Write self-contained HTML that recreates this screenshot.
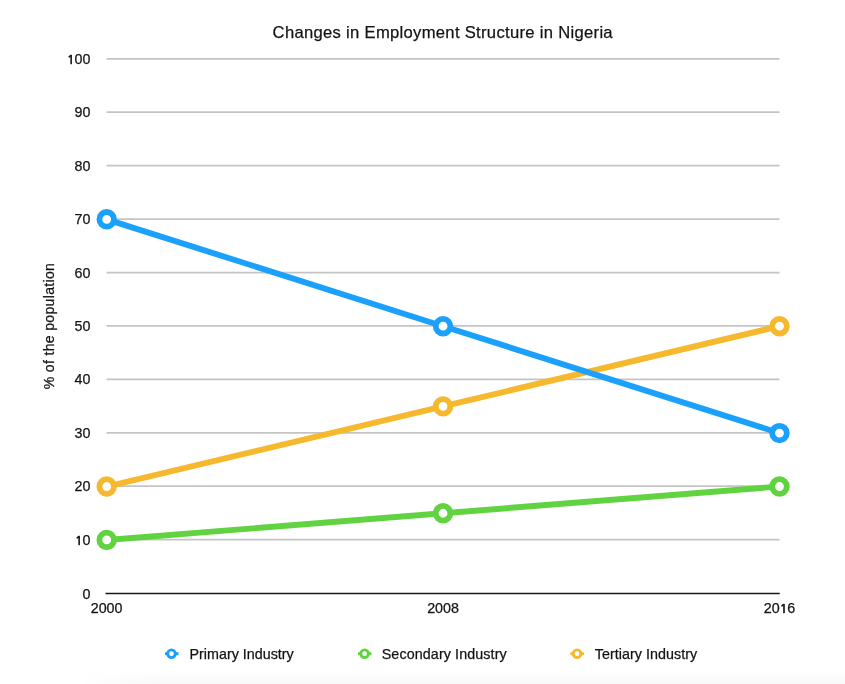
<!DOCTYPE html>
<html lang="en">
<head>
<meta charset="utf-8">
<title>Changes in Employment Structure in Nigeria</title>
<style>
  html, body { margin: 0; padding: 0; background: #ffffff; }
  body { width: 845px; height: 684px; overflow: hidden; position: relative; }
  svg { display: block; position: absolute; left: 0; top: 0; will-change: transform; }
  text { font-family: "Liberation Sans", sans-serif; fill: #141414; stroke: #141414; stroke-width: 0.25; }
  .tick { font-size: 14.3px; }
  .one { font-family: "NanumGothic", "Liberation Sans", sans-serif; font-size: 12.6px; stroke-width: 0.7; }
  .ylab { font-size: 14px; }
  .title { font-size: 16.6px; }
  .legend { font-size: 14.3px; }
  .grid { stroke: #c4c4c4; stroke-width: 1.75; }
  .axis { stroke: #181818; stroke-width: 1.65; }
  .shade { position: absolute; left: 80px; right: 0; bottom: 0; height: 13px;
           background: linear-gradient(to right, #ffffff 0, rgba(255,255,255,0) 70px),
                       linear-gradient(to bottom, #ffffff 0%, #f8f8f8 100%); }
</style>
</head>
<body>
<div class="shade"></div>
<svg width="845" height="684" viewBox="0 0 845 684">
  <!-- title -->
  <text class="title" x="272.6" y="38.1" textLength="340" lengthAdjust="spacing">Changes in Employment Structure in Nigeria</text>

  <!-- gridlines -->
  <g class="grid">
    <line x1="106.5" x2="779.5" y1="58.80" y2="58.80"/>
    <line x1="106.5" x2="779.5" y1="112.23" y2="112.23"/>
    <line x1="106.5" x2="779.5" y1="165.66" y2="165.66"/>
    <line x1="106.5" x2="779.5" y1="219.09" y2="219.09"/>
    <line x1="106.5" x2="779.5" y1="272.52" y2="272.52"/>
    <line x1="106.5" x2="779.5" y1="325.95" y2="325.95"/>
    <line x1="106.5" x2="779.5" y1="379.38" y2="379.38"/>
    <line x1="106.5" x2="779.5" y1="432.81" y2="432.81"/>
    <line x1="106.5" x2="779.5" y1="486.24" y2="486.24"/>
    <line x1="106.5" x2="779.5" y1="539.67" y2="539.67"/>
  </g>
  <line class="axis" x1="105.5" x2="779.7" y1="593.5" y2="593.5"/>

  <!-- y tick labels -->
  <g class="tick" text-anchor="end">
    <text x="90.5" y="63.85"><tspan class="one">1</tspan>00</text>
    <text x="90.5" y="117.28">90</text>
    <text x="90.5" y="170.71">80</text>
    <text x="90.5" y="224.14">70</text>
    <text x="90.5" y="277.57">60</text>
    <text x="90.5" y="331.00">50</text>
    <text x="90.5" y="384.43">40</text>
    <text x="90.5" y="437.86">30</text>
    <text x="90.5" y="491.29">20</text>
    <text x="90.5" y="544.72"><tspan class="one">1</tspan>0</text>
    <text x="90.5" y="598.6">0</text>
  </g>

  <!-- x tick labels -->
  <g class="tick" text-anchor="middle">
    <text x="106.6" y="613.2">2000</text>
    <text x="443.05" y="613.2">2008</text>
    <text x="779.5" y="613.2">20<tspan class="one">1</tspan>6</text>
  </g>

  <!-- y axis title -->
  <text class="tick ylab" transform="translate(54.3 389.2) rotate(-90)" textLength="126.1" lengthAdjust="spacing">% of the population</text>

  <!-- series: green (secondary) -->
  <g fill="none" stroke-linejoin="round" stroke-linecap="round">
    <polyline stroke="#61d341" stroke-width="5.9" points="106.7,539.96 443.05,513.24 779.5,486.52"/>
    <polyline stroke="#f6b82c" stroke-width="5.9" points="106.7,486.52 443.05,406.36 779.5,326.20"/>
    <polyline stroke="#1ba1fb" stroke-width="5.9" points="106.7,219.32 443.05,326.20 779.5,433.08"/>
  </g>
      <g fill="#ffffff" stroke-width="5.8">
    <circle stroke="#61d341" cx="106.7" cy="539.96" r="7.3"/>
    <circle stroke="#61d341" cx="443.05" cy="513.24" r="7.3"/>
    <circle stroke="#61d341" cx="779.5" cy="486.52" r="7.3"/>
    <circle stroke="#f6b82c" cx="106.7" cy="486.52" r="7.3"/>
    <circle stroke="#f6b82c" cx="443.05" cy="406.36" r="7.3"/>
    <circle stroke="#f6b82c" cx="779.5" cy="326.20" r="7.3"/>
    <circle stroke="#1ba1fb" cx="106.7" cy="219.32" r="7.3"/>
    <circle stroke="#1ba1fb" cx="443.05" cy="326.20" r="7.3"/>
    <circle stroke="#1ba1fb" cx="779.5" cy="433.08" r="7.3"/>
  </g>

  <!-- legend -->
  <g stroke-width="2.9" fill="#ffffff">
    <line stroke="#1ba1fb" x1="165" x2="178.5" y1="653.7" y2="653.7"/>
    <circle stroke="#1ba1fb" cx="171.5" cy="653.7" r="3.8"/>
    <line stroke="#61d341" x1="358" x2="371.4" y1="653.7" y2="653.7"/>
    <circle stroke="#61d341" cx="364.6" cy="653.7" r="3.8"/>
    <line stroke="#f6b82c" x1="570.4" x2="584" y1="653.7" y2="653.7"/>
    <circle stroke="#f6b82c" cx="577.1" cy="653.7" r="3.8"/>
  </g>
  <g class="legend">
    <text x="189.5" y="659" textLength="104.2" lengthAdjust="spacing">Primary Industry</text>
    <text x="381.7" y="659" textLength="125" lengthAdjust="spacing">Secondary Industry</text>
    <text x="594.8" y="659" textLength="102.4" lengthAdjust="spacing">Tertiary Industry</text>
  </g>
</svg>
</body>
</html>
